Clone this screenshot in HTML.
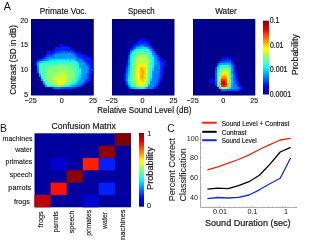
<!DOCTYPE html>
<html><head><meta charset="utf-8"><style>
html,body{margin:0;padding:0;background:#fff;width:300px;height:240px;overflow:hidden}
svg{display:block;font-family:"Liberation Sans",sans-serif;will-change:transform}
</style></head><body><svg width="300" height="240" viewBox="0 0 300 240" font-family="Liberation Sans, sans-serif"><defs><filter id="hb" x="-5%" y="-5%" width="110%" height="110%"><feGaussianBlur stdDeviation="0.55"/></filter></defs><defs><clipPath id="hc0"><rect x="31" y="19" width="62.8" height="76.4"/></clipPath></defs><g clip-path="url(#hc0)"><g filter="url(#hb)"><rect x="28" y="16" width="68.8" height="82.4" fill="#00008f"/><g shape-rendering="crispEdges"><rect x="59" y="45" width="2" height="2" fill="#0000ff"/><rect x="61" y="45" width="2" height="2" fill="#0010ff"/><rect x="63" y="45" width="2" height="2" fill="#0000ff"/><rect x="65" y="45" width="2" height="2" fill="#0000ef"/><rect x="55" y="47" width="2" height="2" fill="#0010ff"/><rect x="57" y="47" width="2" height="2" fill="#0020ff"/><rect x="59" y="47" width="2" height="2" fill="#0010ff"/><rect x="61" y="47" width="8" height="2" fill="#0020ff"/><rect x="69" y="47" width="2" height="2" fill="#0010ff"/><rect x="53" y="49" width="2" height="2" fill="#0000ff"/><rect x="55" y="49" width="10" height="2" fill="#0020ff"/><rect x="65" y="49" width="2" height="2" fill="#0010ff"/><rect x="67" y="49" width="4" height="2" fill="#0020ff"/><rect x="71" y="49" width="2" height="2" fill="#0010ff"/><rect x="47" y="51" width="4" height="2" fill="#0010ff"/><rect x="51" y="51" width="2" height="2" fill="#0000ef"/><rect x="53" y="51" width="2" height="2" fill="#0010ff"/><rect x="55" y="51" width="2" height="2" fill="#0030ff"/><rect x="57" y="51" width="2" height="2" fill="#0040ff"/><rect x="59" y="51" width="2" height="2" fill="#0050ff"/><rect x="61" y="51" width="2" height="2" fill="#0060ff"/><rect x="63" y="51" width="2" height="2" fill="#0070ff"/><rect x="65" y="51" width="4" height="2" fill="#0050ff"/><rect x="69" y="51" width="2" height="2" fill="#0060ff"/><rect x="71" y="51" width="2" height="2" fill="#0040ff"/><rect x="73" y="51" width="2" height="2" fill="#0020ff"/><rect x="75" y="51" width="2" height="2" fill="#0000ff"/><rect x="77" y="51" width="2" height="2" fill="#0000ef"/><rect x="47" y="53" width="6" height="2" fill="#0020ff"/><rect x="53" y="53" width="2" height="2" fill="#0050ff"/><rect x="55" y="53" width="4" height="2" fill="#0080ff"/><rect x="59" y="53" width="8" height="2" fill="#008fff"/><rect x="67" y="53" width="4" height="2" fill="#009fff"/><rect x="71" y="53" width="2" height="2" fill="#0080ff"/><rect x="73" y="53" width="2" height="2" fill="#0040ff"/><rect x="75" y="53" width="2" height="2" fill="#0030ff"/><rect x="77" y="53" width="2" height="2" fill="#0010ff"/><rect x="79" y="53" width="2" height="2" fill="#0020ff"/><rect x="81" y="53" width="2" height="2" fill="#0000ff"/><rect x="45" y="55" width="2" height="2" fill="#0020ff"/><rect x="47" y="55" width="4" height="2" fill="#0050ff"/><rect x="51" y="55" width="2" height="2" fill="#0070ff"/><rect x="53" y="55" width="2" height="2" fill="#008fff"/><rect x="55" y="55" width="2" height="2" fill="#009fff"/><rect x="57" y="55" width="4" height="2" fill="#008fff"/><rect x="61" y="55" width="2" height="2" fill="#009fff"/><rect x="63" y="55" width="2" height="2" fill="#008fff"/><rect x="65" y="55" width="4" height="2" fill="#009fff"/><rect x="69" y="55" width="2" height="2" fill="#0080ff"/><rect x="71" y="55" width="2" height="2" fill="#009fff"/><rect x="73" y="55" width="2" height="2" fill="#008fff"/><rect x="75" y="55" width="2" height="2" fill="#0050ff"/><rect x="77" y="55" width="8" height="2" fill="#0020ff"/><rect x="85" y="55" width="2" height="2" fill="#0000ff"/><rect x="41" y="57" width="2" height="2" fill="#0000ef"/><rect x="43" y="57" width="2" height="2" fill="#0020ff"/><rect x="45" y="57" width="2" height="2" fill="#0060ff"/><rect x="47" y="57" width="2" height="2" fill="#008fff"/><rect x="49" y="57" width="2" height="2" fill="#009fff"/><rect x="51" y="57" width="2" height="2" fill="#0080ff"/><rect x="53" y="57" width="2" height="2" fill="#008fff"/><rect x="55" y="57" width="4" height="2" fill="#009fff"/><rect x="59" y="57" width="2" height="2" fill="#008fff"/><rect x="61" y="57" width="10" height="2" fill="#009fff"/><rect x="71" y="57" width="4" height="2" fill="#008fff"/><rect x="75" y="57" width="2" height="2" fill="#009fff"/><rect x="77" y="57" width="2" height="2" fill="#0050ff"/><rect x="79" y="57" width="2" height="2" fill="#0040ff"/><rect x="81" y="57" width="2" height="2" fill="#0020ff"/><rect x="83" y="57" width="2" height="2" fill="#0010ff"/><rect x="85" y="57" width="2" height="2" fill="#0020ff"/><rect x="87" y="57" width="4" height="2" fill="#0010ff"/><rect x="37" y="59" width="2" height="2" fill="#0010ff"/><rect x="39" y="59" width="2" height="2" fill="#0030ff"/><rect x="41" y="59" width="2" height="2" fill="#0050ff"/><rect x="43" y="59" width="2" height="2" fill="#0080ff"/><rect x="45" y="59" width="2" height="2" fill="#008fff"/><rect x="47" y="59" width="2" height="2" fill="#009fff"/><rect x="49" y="59" width="6" height="2" fill="#00dfff"/><rect x="55" y="59" width="10" height="2" fill="#00efff"/><rect x="65" y="59" width="2" height="2" fill="#00dfff"/><rect x="67" y="59" width="2" height="2" fill="#00efff"/><rect x="69" y="59" width="2" height="2" fill="#00cfff"/><rect x="71" y="59" width="4" height="2" fill="#00dfff"/><rect x="75" y="59" width="2" height="2" fill="#008fff"/><rect x="77" y="59" width="2" height="2" fill="#0070ff"/><rect x="79" y="59" width="2" height="2" fill="#008fff"/><rect x="81" y="59" width="2" height="2" fill="#0070ff"/><rect x="83" y="59" width="2" height="2" fill="#0020ff"/><rect x="85" y="59" width="2" height="2" fill="#0010ff"/><rect x="87" y="59" width="2" height="2" fill="#0020ff"/><rect x="89" y="59" width="2" height="2" fill="#0010ff"/><rect x="91" y="59" width="2" height="2" fill="#0000ff"/><rect x="35" y="61" width="2" height="2" fill="#0000ff"/><rect x="37" y="61" width="2" height="2" fill="#0070ff"/><rect x="39" y="61" width="2" height="2" fill="#00bfff"/><rect x="41" y="61" width="2" height="2" fill="#00dfff"/><rect x="43" y="61" width="2" height="2" fill="#00efff"/><rect x="45" y="61" width="2" height="2" fill="#00ffff"/><rect x="47" y="61" width="4" height="2" fill="#10ffef"/><rect x="51" y="61" width="2" height="2" fill="#20ffdf"/><rect x="53" y="61" width="4" height="2" fill="#10ffef"/><rect x="57" y="61" width="2" height="2" fill="#30ffcf"/><rect x="59" y="61" width="4" height="2" fill="#20ffdf"/><rect x="63" y="61" width="2" height="2" fill="#30ffcf"/><rect x="65" y="61" width="4" height="2" fill="#20ffdf"/><rect x="69" y="61" width="2" height="2" fill="#30ffcf"/><rect x="71" y="61" width="2" height="2" fill="#20ffdf"/><rect x="73" y="61" width="2" height="2" fill="#10ffef"/><rect x="75" y="61" width="2" height="2" fill="#00ffff"/><rect x="77" y="61" width="2" height="2" fill="#00afff"/><rect x="79" y="61" width="2" height="2" fill="#008fff"/><rect x="81" y="61" width="2" height="2" fill="#0080ff"/><rect x="83" y="61" width="2" height="2" fill="#0060ff"/><rect x="85" y="61" width="2" height="2" fill="#0040ff"/><rect x="87" y="61" width="2" height="2" fill="#0010ff"/><rect x="89" y="61" width="2" height="2" fill="#0020ff"/><rect x="91" y="61" width="2.8" height="2" fill="#0000ff"/><rect x="35" y="63" width="2" height="2" fill="#0020ff"/><rect x="37" y="63" width="2" height="2" fill="#00afff"/><rect x="39" y="63" width="2" height="2" fill="#20ffdf"/><rect x="41" y="63" width="6" height="2" fill="#40ffbf"/><rect x="47" y="63" width="2" height="2" fill="#50ffaf"/><rect x="49" y="63" width="12" height="2" fill="#40ffbf"/><rect x="61" y="63" width="2" height="2" fill="#50ffaf"/><rect x="63" y="63" width="2" height="2" fill="#30ffcf"/><rect x="65" y="63" width="2" height="2" fill="#50ffaf"/><rect x="67" y="63" width="2" height="2" fill="#40ffbf"/><rect x="69" y="63" width="2" height="2" fill="#30ffcf"/><rect x="71" y="63" width="4" height="2" fill="#40ffbf"/><rect x="75" y="63" width="2" height="2" fill="#30ffcf"/><rect x="77" y="63" width="2" height="2" fill="#00efff"/><rect x="79" y="63" width="2" height="2" fill="#008fff"/><rect x="81" y="63" width="2" height="2" fill="#00bfff"/><rect x="83" y="63" width="2" height="2" fill="#009fff"/><rect x="85" y="63" width="2" height="2" fill="#0060ff"/><rect x="87" y="63" width="4" height="2" fill="#0020ff"/><rect x="91" y="63" width="2" height="2" fill="#0000ff"/><rect x="93" y="63" width="0.8" height="2" fill="#0010ff"/><rect x="37" y="65" width="2" height="2" fill="#009fff"/><rect x="39" y="65" width="4" height="2" fill="#50ffaf"/><rect x="43" y="65" width="2" height="2" fill="#30ffcf"/><rect x="45" y="65" width="2" height="2" fill="#50ffaf"/><rect x="47" y="65" width="2" height="2" fill="#40ffbf"/><rect x="49" y="65" width="4" height="2" fill="#60ff9f"/><rect x="53" y="65" width="2" height="2" fill="#70ff8f"/><rect x="55" y="65" width="2" height="2" fill="#60ff9f"/><rect x="57" y="65" width="4" height="2" fill="#8fff70"/><rect x="61" y="65" width="2" height="2" fill="#70ff8f"/><rect x="63" y="65" width="2" height="2" fill="#80ff80"/><rect x="65" y="65" width="4" height="2" fill="#70ff8f"/><rect x="69" y="65" width="2" height="2" fill="#60ff9f"/><rect x="71" y="65" width="2" height="2" fill="#70ff8f"/><rect x="73" y="65" width="4" height="2" fill="#40ffbf"/><rect x="77" y="65" width="2" height="2" fill="#20ffdf"/><rect x="79" y="65" width="2" height="2" fill="#00afff"/><rect x="81" y="65" width="6" height="2" fill="#008fff"/><rect x="87" y="65" width="2" height="2" fill="#0060ff"/><rect x="89" y="65" width="2" height="2" fill="#0020ff"/><rect x="91" y="65" width="2" height="2" fill="#0010ff"/><rect x="37" y="67" width="2" height="2" fill="#0080ff"/><rect x="39" y="67" width="4" height="2" fill="#40ffbf"/><rect x="43" y="67" width="2" height="2" fill="#50ffaf"/><rect x="45" y="67" width="2" height="2" fill="#60ff9f"/><rect x="47" y="67" width="4" height="2" fill="#70ff8f"/><rect x="51" y="67" width="2" height="2" fill="#80ff80"/><rect x="53" y="67" width="2" height="2" fill="#70ff8f"/><rect x="55" y="67" width="2" height="2" fill="#8fff70"/><rect x="57" y="67" width="4" height="2" fill="#80ff80"/><rect x="61" y="67" width="4" height="2" fill="#8fff70"/><rect x="65" y="67" width="2" height="2" fill="#80ff80"/><rect x="67" y="67" width="2" height="2" fill="#70ff8f"/><rect x="69" y="67" width="2" height="2" fill="#8fff70"/><rect x="71" y="67" width="2" height="2" fill="#80ff80"/><rect x="73" y="67" width="2" height="2" fill="#40ffbf"/><rect x="75" y="67" width="2" height="2" fill="#50ffaf"/><rect x="77" y="67" width="2" height="2" fill="#20ffdf"/><rect x="79" y="67" width="2" height="2" fill="#00cfff"/><rect x="81" y="67" width="2" height="2" fill="#009fff"/><rect x="83" y="67" width="2" height="2" fill="#008fff"/><rect x="85" y="67" width="2" height="2" fill="#009fff"/><rect x="87" y="67" width="2" height="2" fill="#0070ff"/><rect x="89" y="67" width="2" height="2" fill="#0040ff"/><rect x="91" y="67" width="2" height="2" fill="#0000ff"/><rect x="37" y="69" width="2" height="2" fill="#0070ff"/><rect x="39" y="69" width="4" height="2" fill="#40ffbf"/><rect x="43" y="69" width="2" height="2" fill="#50ffaf"/><rect x="45" y="69" width="2" height="2" fill="#70ff8f"/><rect x="47" y="69" width="2" height="2" fill="#80ff80"/><rect x="49" y="69" width="2" height="2" fill="#8fff70"/><rect x="51" y="69" width="2" height="2" fill="#80ff80"/><rect x="53" y="69" width="2" height="2" fill="#8fff70"/><rect x="55" y="69" width="4" height="2" fill="#80ff80"/><rect x="59" y="69" width="6" height="2" fill="#8fff70"/><rect x="65" y="69" width="2" height="2" fill="#80ff80"/><rect x="67" y="69" width="2" height="2" fill="#8fff70"/><rect x="69" y="69" width="2" height="2" fill="#70ff8f"/><rect x="71" y="69" width="2" height="2" fill="#80ff80"/><rect x="73" y="69" width="2" height="2" fill="#60ff9f"/><rect x="75" y="69" width="4" height="2" fill="#30ffcf"/><rect x="79" y="69" width="2" height="2" fill="#00ffff"/><rect x="81" y="69" width="2" height="2" fill="#00afff"/><rect x="83" y="69" width="4" height="2" fill="#008fff"/><rect x="87" y="69" width="2" height="2" fill="#0080ff"/><rect x="89" y="69" width="2" height="2" fill="#0010ff"/><rect x="91" y="69" width="2" height="2" fill="#0030ff"/><rect x="37" y="71" width="2" height="2" fill="#0060ff"/><rect x="39" y="71" width="2" height="2" fill="#20ffdf"/><rect x="41" y="71" width="4" height="2" fill="#50ffaf"/><rect x="45" y="71" width="2" height="2" fill="#60ff9f"/><rect x="47" y="71" width="4" height="2" fill="#8fff70"/><rect x="51" y="71" width="4" height="2" fill="#80ff80"/><rect x="55" y="71" width="2" height="2" fill="#8fff70"/><rect x="57" y="71" width="2" height="2" fill="#80ff80"/><rect x="59" y="71" width="2" height="2" fill="#9fff60"/><rect x="61" y="71" width="4" height="2" fill="#afff50"/><rect x="65" y="71" width="6" height="2" fill="#80ff80"/><rect x="71" y="71" width="2" height="2" fill="#8fff70"/><rect x="73" y="71" width="2" height="2" fill="#70ff8f"/><rect x="75" y="71" width="2" height="2" fill="#50ffaf"/><rect x="77" y="71" width="2" height="2" fill="#30ffcf"/><rect x="79" y="71" width="2" height="2" fill="#00ffff"/><rect x="81" y="71" width="4" height="2" fill="#009fff"/><rect x="85" y="71" width="2" height="2" fill="#00afff"/><rect x="87" y="71" width="2" height="2" fill="#0070ff"/><rect x="89" y="71" width="2" height="2" fill="#0020ff"/><rect x="91" y="71" width="2" height="2" fill="#0000ff"/><rect x="39" y="73" width="2" height="2" fill="#00dfff"/><rect x="41" y="73" width="2" height="2" fill="#40ffbf"/><rect x="43" y="73" width="2" height="2" fill="#50ffaf"/><rect x="45" y="73" width="2" height="2" fill="#70ff8f"/><rect x="47" y="73" width="2" height="2" fill="#9fff60"/><rect x="49" y="73" width="8" height="2" fill="#8fff70"/><rect x="57" y="73" width="6" height="2" fill="#bfff40"/><rect x="63" y="73" width="2" height="2" fill="#cfff30"/><rect x="65" y="73" width="2" height="2" fill="#afff50"/><rect x="67" y="73" width="4" height="2" fill="#80ff80"/><rect x="71" y="73" width="2" height="2" fill="#70ff8f"/><rect x="73" y="73" width="2" height="2" fill="#80ff80"/><rect x="75" y="73" width="2" height="2" fill="#40ffbf"/><rect x="77" y="73" width="2" height="2" fill="#20ffdf"/><rect x="79" y="73" width="2" height="2" fill="#00efff"/><rect x="81" y="73" width="2" height="2" fill="#009fff"/><rect x="83" y="73" width="2" height="2" fill="#008fff"/><rect x="85" y="73" width="2" height="2" fill="#0080ff"/><rect x="87" y="73" width="2" height="2" fill="#0050ff"/><rect x="89" y="73" width="2" height="2" fill="#0020ff"/><rect x="39" y="75" width="2" height="2" fill="#0080ff"/><rect x="41" y="75" width="2" height="2" fill="#40ffbf"/><rect x="43" y="75" width="2" height="2" fill="#60ff9f"/><rect x="45" y="75" width="2" height="2" fill="#70ff8f"/><rect x="47" y="75" width="2" height="2" fill="#8fff70"/><rect x="49" y="75" width="2" height="2" fill="#70ff8f"/><rect x="51" y="75" width="2" height="2" fill="#8fff70"/><rect x="53" y="75" width="2" height="2" fill="#afff50"/><rect x="55" y="75" width="2" height="2" fill="#cfff30"/><rect x="57" y="75" width="2" height="2" fill="#dfff20"/><rect x="59" y="75" width="2" height="2" fill="#afff50"/><rect x="61" y="75" width="2" height="2" fill="#cfff30"/><rect x="63" y="75" width="2" height="2" fill="#bfff40"/><rect x="65" y="75" width="2" height="2" fill="#cfff30"/><rect x="67" y="75" width="4" height="2" fill="#80ff80"/><rect x="71" y="75" width="2" height="2" fill="#8fff70"/><rect x="73" y="75" width="2" height="2" fill="#70ff8f"/><rect x="75" y="75" width="2" height="2" fill="#40ffbf"/><rect x="77" y="75" width="2" height="2" fill="#20ffdf"/><rect x="79" y="75" width="2" height="2" fill="#00dfff"/><rect x="81" y="75" width="2" height="2" fill="#009fff"/><rect x="83" y="75" width="2" height="2" fill="#008fff"/><rect x="85" y="75" width="2" height="2" fill="#0080ff"/><rect x="87" y="75" width="2" height="2" fill="#0050ff"/><rect x="89" y="75" width="2" height="2" fill="#0010ff"/><rect x="41" y="77" width="2" height="2" fill="#00ffff"/><rect x="43" y="77" width="2" height="2" fill="#40ffbf"/><rect x="45" y="77" width="4" height="2" fill="#80ff80"/><rect x="49" y="77" width="4" height="2" fill="#8fff70"/><rect x="53" y="77" width="2" height="2" fill="#cfff30"/><rect x="55" y="77" width="2" height="2" fill="#dfff20"/><rect x="57" y="77" width="2" height="2" fill="#bfff40"/><rect x="59" y="77" width="4" height="2" fill="#cfff30"/><rect x="63" y="77" width="2" height="2" fill="#dfff20"/><rect x="65" y="77" width="2" height="2" fill="#bfff40"/><rect x="67" y="77" width="2" height="2" fill="#80ff80"/><rect x="69" y="77" width="4" height="2" fill="#8fff70"/><rect x="73" y="77" width="2" height="2" fill="#70ff8f"/><rect x="75" y="77" width="2" height="2" fill="#20ffdf"/><rect x="77" y="77" width="2" height="2" fill="#10ffef"/><rect x="79" y="77" width="2" height="2" fill="#00cfff"/><rect x="81" y="77" width="6" height="2" fill="#0080ff"/><rect x="87" y="77" width="2" height="2" fill="#0040ff"/><rect x="89" y="77" width="2" height="2" fill="#0000ff"/><rect x="41" y="79" width="2" height="2" fill="#009fff"/><rect x="43" y="79" width="2" height="2" fill="#40ffbf"/><rect x="45" y="79" width="2" height="2" fill="#70ff8f"/><rect x="47" y="79" width="2" height="2" fill="#80ff80"/><rect x="49" y="79" width="2" height="2" fill="#8fff70"/><rect x="51" y="79" width="2" height="2" fill="#80ff80"/><rect x="53" y="79" width="2" height="2" fill="#bfff40"/><rect x="55" y="79" width="2" height="2" fill="#cfff30"/><rect x="57" y="79" width="4" height="2" fill="#dfff20"/><rect x="61" y="79" width="4" height="2" fill="#cfff30"/><rect x="65" y="79" width="2" height="2" fill="#bfff40"/><rect x="67" y="79" width="2" height="2" fill="#8fff70"/><rect x="69" y="79" width="2" height="2" fill="#80ff80"/><rect x="71" y="79" width="2" height="2" fill="#70ff8f"/><rect x="73" y="79" width="4" height="2" fill="#30ffcf"/><rect x="77" y="79" width="2" height="2" fill="#00efff"/><rect x="79" y="79" width="2" height="2" fill="#008fff"/><rect x="81" y="79" width="2" height="2" fill="#009fff"/><rect x="83" y="79" width="2" height="2" fill="#0080ff"/><rect x="85" y="79" width="2" height="2" fill="#0050ff"/><rect x="87" y="79" width="4" height="2" fill="#0020ff"/><rect x="43" y="81" width="2" height="2" fill="#00cfff"/><rect x="45" y="81" width="2" height="2" fill="#50ffaf"/><rect x="47" y="81" width="2" height="2" fill="#80ff80"/><rect x="49" y="81" width="2" height="2" fill="#8fff70"/><rect x="51" y="81" width="2" height="2" fill="#9fff60"/><rect x="53" y="81" width="2" height="2" fill="#afff50"/><rect x="55" y="81" width="2" height="2" fill="#bfff40"/><rect x="57" y="81" width="6" height="2" fill="#ffff00"/><rect x="63" y="81" width="2" height="2" fill="#cfff30"/><rect x="65" y="81" width="2" height="2" fill="#afff50"/><rect x="67" y="81" width="2" height="2" fill="#8fff70"/><rect x="69" y="81" width="2" height="2" fill="#70ff8f"/><rect x="71" y="81" width="2" height="2" fill="#60ff9f"/><rect x="73" y="81" width="2" height="2" fill="#30ffcf"/><rect x="75" y="81" width="2" height="2" fill="#00ffff"/><rect x="77" y="81" width="2" height="2" fill="#00afff"/><rect x="79" y="81" width="2" height="2" fill="#008fff"/><rect x="81" y="81" width="2" height="2" fill="#009fff"/><rect x="83" y="81" width="2" height="2" fill="#0070ff"/><rect x="85" y="81" width="2" height="2" fill="#0020ff"/><rect x="87" y="81" width="2" height="2" fill="#0010ff"/><rect x="43" y="83" width="2" height="2" fill="#0070ff"/><rect x="45" y="83" width="2" height="2" fill="#20ffdf"/><rect x="47" y="83" width="2" height="2" fill="#60ff9f"/><rect x="49" y="83" width="2" height="2" fill="#8fff70"/><rect x="51" y="83" width="2" height="2" fill="#80ff80"/><rect x="53" y="83" width="2" height="2" fill="#afff50"/><rect x="55" y="83" width="2" height="2" fill="#bfff40"/><rect x="57" y="83" width="6" height="2" fill="#ffef00"/><rect x="63" y="83" width="2" height="2" fill="#bfff40"/><rect x="65" y="83" width="2" height="2" fill="#80ff80"/><rect x="67" y="83" width="2" height="2" fill="#60ff9f"/><rect x="69" y="83" width="2" height="2" fill="#40ffbf"/><rect x="71" y="83" width="2" height="2" fill="#10ffef"/><rect x="73" y="83" width="2" height="2" fill="#00efff"/><rect x="75" y="83" width="2" height="2" fill="#00bfff"/><rect x="77" y="83" width="2" height="2" fill="#009fff"/><rect x="79" y="83" width="2" height="2" fill="#008fff"/><rect x="81" y="83" width="2" height="2" fill="#0070ff"/><rect x="83" y="83" width="2" height="2" fill="#0020ff"/><rect x="45" y="85" width="2" height="2" fill="#009fff"/><rect x="47" y="85" width="2" height="2" fill="#10ffef"/><rect x="49" y="85" width="4" height="2" fill="#20ffdf"/><rect x="53" y="85" width="2" height="2" fill="#30ffcf"/><rect x="55" y="85" width="2" height="2" fill="#40ffbf"/><rect x="57" y="85" width="2" height="2" fill="#80ff80"/><rect x="59" y="85" width="2" height="2" fill="#8fff70"/><rect x="61" y="85" width="2" height="2" fill="#70ff8f"/><rect x="63" y="85" width="2" height="2" fill="#40ffbf"/><rect x="65" y="85" width="2" height="2" fill="#10ffef"/><rect x="67" y="85" width="2" height="2" fill="#00ffff"/><rect x="69" y="85" width="2" height="2" fill="#00dfff"/><rect x="71" y="85" width="2" height="2" fill="#00afff"/><rect x="73" y="85" width="2" height="2" fill="#009fff"/><rect x="75" y="85" width="2" height="2" fill="#0080ff"/><rect x="77" y="85" width="2" height="2" fill="#0060ff"/><rect x="79" y="85" width="2" height="2" fill="#0050ff"/><rect x="81" y="85" width="2" height="2" fill="#0020ff"/><rect x="53" y="87" width="4" height="2" fill="#0070ff"/><rect x="57" y="87" width="2" height="2" fill="#0080ff"/><rect x="59" y="87" width="2" height="2" fill="#0070ff"/><rect x="61" y="87" width="2" height="2" fill="#0050ff"/><rect x="63" y="87" width="2" height="2" fill="#0060ff"/><rect x="65" y="87" width="4" height="2" fill="#0040ff"/><rect x="69" y="87" width="2" height="2" fill="#0050ff"/><rect x="71" y="87" width="2" height="2" fill="#0030ff"/><rect x="73" y="87" width="2" height="2" fill="#0020ff"/><rect x="75" y="87" width="2" height="2" fill="#0010ff"/></g></g></g><defs><clipPath id="hc1"><rect x="112" y="19" width="62.5" height="76.4"/></clipPath></defs><g clip-path="url(#hc1)"><g filter="url(#hb)"><rect x="109" y="16" width="68.5" height="82.4" fill="#00008f"/><g shape-rendering="crispEdges"><rect x="140" y="39" width="6" height="2" fill="#0010ff"/><rect x="136" y="41" width="2" height="2" fill="#0000ef"/><rect x="138" y="41" width="4" height="2" fill="#0020ff"/><rect x="142" y="41" width="2" height="2" fill="#0010ff"/><rect x="144" y="41" width="2" height="2" fill="#0020ff"/><rect x="146" y="41" width="2" height="2" fill="#0010ff"/><rect x="148" y="41" width="2" height="2" fill="#0000ff"/><rect x="134" y="43" width="2" height="2" fill="#0000ff"/><rect x="136" y="43" width="4" height="2" fill="#0020ff"/><rect x="140" y="43" width="4" height="2" fill="#0030ff"/><rect x="144" y="43" width="2" height="2" fill="#0040ff"/><rect x="146" y="43" width="2" height="2" fill="#0030ff"/><rect x="148" y="43" width="2" height="2" fill="#0010ff"/><rect x="132" y="45" width="2" height="2" fill="#0000ef"/><rect x="134" y="45" width="2" height="2" fill="#0020ff"/><rect x="136" y="45" width="2" height="2" fill="#0050ff"/><rect x="138" y="45" width="2" height="2" fill="#0070ff"/><rect x="140" y="45" width="4" height="2" fill="#008fff"/><rect x="144" y="45" width="2" height="2" fill="#0060ff"/><rect x="146" y="45" width="2" height="2" fill="#0050ff"/><rect x="148" y="45" width="2" height="2" fill="#0040ff"/><rect x="150" y="45" width="2" height="2" fill="#0010ff"/><rect x="132" y="47" width="2" height="2" fill="#0020ff"/><rect x="134" y="47" width="2" height="2" fill="#0060ff"/><rect x="136" y="47" width="4" height="2" fill="#00bfff"/><rect x="140" y="47" width="2" height="2" fill="#00cfff"/><rect x="142" y="47" width="2" height="2" fill="#00efff"/><rect x="144" y="47" width="2" height="2" fill="#00dfff"/><rect x="146" y="47" width="2" height="2" fill="#00cfff"/><rect x="148" y="47" width="2" height="2" fill="#0080ff"/><rect x="150" y="47" width="2" height="2" fill="#0030ff"/><rect x="152" y="47" width="2" height="2" fill="#0010ff"/><rect x="130" y="49" width="2" height="2" fill="#0020ff"/><rect x="132" y="49" width="2" height="2" fill="#0070ff"/><rect x="134" y="49" width="2" height="2" fill="#00dfff"/><rect x="136" y="49" width="2" height="2" fill="#10ffef"/><rect x="138" y="49" width="2" height="2" fill="#20ffdf"/><rect x="140" y="49" width="6" height="2" fill="#30ffcf"/><rect x="146" y="49" width="2" height="2" fill="#20ffdf"/><rect x="148" y="49" width="2" height="2" fill="#00efff"/><rect x="150" y="49" width="2" height="2" fill="#009fff"/><rect x="152" y="49" width="2" height="2" fill="#0040ff"/><rect x="128" y="51" width="2" height="2" fill="#0000ff"/><rect x="130" y="51" width="2" height="2" fill="#008fff"/><rect x="132" y="51" width="2" height="2" fill="#00ffff"/><rect x="134" y="51" width="4" height="2" fill="#30ffcf"/><rect x="138" y="51" width="4" height="2" fill="#60ff9f"/><rect x="142" y="51" width="6" height="2" fill="#50ffaf"/><rect x="148" y="51" width="2" height="2" fill="#30ffcf"/><rect x="150" y="51" width="2" height="2" fill="#00dfff"/><rect x="152" y="51" width="2" height="2" fill="#0070ff"/><rect x="154" y="51" width="2" height="2" fill="#0030ff"/><rect x="128" y="53" width="2" height="2" fill="#0010ff"/><rect x="130" y="53" width="2" height="2" fill="#00cfff"/><rect x="132" y="53" width="4" height="2" fill="#30ffcf"/><rect x="136" y="53" width="2" height="2" fill="#60ff9f"/><rect x="138" y="53" width="2" height="2" fill="#70ff8f"/><rect x="140" y="53" width="4" height="2" fill="#60ff9f"/><rect x="144" y="53" width="2" height="2" fill="#70ff8f"/><rect x="146" y="53" width="4" height="2" fill="#60ff9f"/><rect x="150" y="53" width="2" height="2" fill="#10ffef"/><rect x="152" y="53" width="2" height="2" fill="#008fff"/><rect x="154" y="53" width="2" height="2" fill="#0070ff"/><rect x="156" y="53" width="2" height="2" fill="#0010ff"/><rect x="128" y="55" width="2" height="2" fill="#0040ff"/><rect x="130" y="55" width="2" height="2" fill="#00ffff"/><rect x="132" y="55" width="2" height="2" fill="#20ffdf"/><rect x="134" y="55" width="2" height="2" fill="#50ffaf"/><rect x="136" y="55" width="2" height="2" fill="#70ff8f"/><rect x="138" y="55" width="2" height="2" fill="#8fff70"/><rect x="140" y="55" width="6" height="2" fill="#9fff60"/><rect x="146" y="55" width="2" height="2" fill="#80ff80"/><rect x="148" y="55" width="2" height="2" fill="#70ff8f"/><rect x="150" y="55" width="2" height="2" fill="#30ffcf"/><rect x="152" y="55" width="2" height="2" fill="#00cfff"/><rect x="154" y="55" width="2" height="2" fill="#0080ff"/><rect x="156" y="55" width="2" height="2" fill="#0060ff"/><rect x="158" y="55" width="2" height="2" fill="#0000ef"/><rect x="128" y="57" width="2" height="2" fill="#0050ff"/><rect x="130" y="57" width="2" height="2" fill="#10ffef"/><rect x="132" y="57" width="2" height="2" fill="#30ffcf"/><rect x="134" y="57" width="2" height="2" fill="#60ff9f"/><rect x="136" y="57" width="2" height="2" fill="#80ff80"/><rect x="138" y="57" width="8" height="2" fill="#bfff40"/><rect x="146" y="57" width="2" height="2" fill="#afff50"/><rect x="148" y="57" width="2" height="2" fill="#70ff8f"/><rect x="150" y="57" width="2" height="2" fill="#30ffcf"/><rect x="152" y="57" width="2" height="2" fill="#10ffef"/><rect x="154" y="57" width="2" height="2" fill="#008fff"/><rect x="156" y="57" width="2" height="2" fill="#0070ff"/><rect x="158" y="57" width="2" height="2" fill="#0030ff"/><rect x="160" y="57" width="2" height="2" fill="#0000ff"/><rect x="128" y="59" width="2" height="2" fill="#0070ff"/><rect x="130" y="59" width="2" height="2" fill="#10ffef"/><rect x="132" y="59" width="2" height="2" fill="#50ffaf"/><rect x="134" y="59" width="2" height="2" fill="#60ff9f"/><rect x="136" y="59" width="4" height="2" fill="#afff50"/><rect x="140" y="59" width="2" height="2" fill="#bfff40"/><rect x="142" y="59" width="2" height="2" fill="#cfff30"/><rect x="144" y="59" width="6" height="2" fill="#9fff60"/><rect x="150" y="59" width="2" height="2" fill="#70ff8f"/><rect x="152" y="59" width="2" height="2" fill="#00ffff"/><rect x="154" y="59" width="2" height="2" fill="#008fff"/><rect x="156" y="59" width="2" height="2" fill="#0080ff"/><rect x="158" y="59" width="2" height="2" fill="#0040ff"/><rect x="160" y="59" width="4" height="2" fill="#0010ff"/><rect x="126" y="61" width="2" height="2" fill="#0010ff"/><rect x="128" y="61" width="2" height="2" fill="#0070ff"/><rect x="130" y="61" width="2" height="2" fill="#20ffdf"/><rect x="132" y="61" width="2" height="2" fill="#50ffaf"/><rect x="134" y="61" width="2" height="2" fill="#70ff8f"/><rect x="136" y="61" width="4" height="2" fill="#afff50"/><rect x="140" y="61" width="2" height="2" fill="#bfff40"/><rect x="142" y="61" width="4" height="2" fill="#afff50"/><rect x="146" y="61" width="2" height="2" fill="#cfff30"/><rect x="148" y="61" width="2" height="2" fill="#8fff70"/><rect x="150" y="61" width="2" height="2" fill="#40ffbf"/><rect x="152" y="61" width="2" height="2" fill="#10ffef"/><rect x="154" y="61" width="2" height="2" fill="#009fff"/><rect x="156" y="61" width="2" height="2" fill="#0080ff"/><rect x="158" y="61" width="2" height="2" fill="#0070ff"/><rect x="160" y="61" width="2" height="2" fill="#0020ff"/><rect x="162" y="61" width="4" height="2" fill="#0010ff"/><rect x="126" y="63" width="2" height="2" fill="#0000ff"/><rect x="128" y="63" width="2" height="2" fill="#0070ff"/><rect x="130" y="63" width="2" height="2" fill="#10ffef"/><rect x="132" y="63" width="2" height="2" fill="#50ffaf"/><rect x="134" y="63" width="2" height="2" fill="#8fff70"/><rect x="136" y="63" width="2" height="2" fill="#bfff40"/><rect x="138" y="63" width="2" height="2" fill="#dfff20"/><rect x="140" y="63" width="2" height="2" fill="#cfff30"/><rect x="142" y="63" width="4" height="2" fill="#dfff20"/><rect x="146" y="63" width="2" height="2" fill="#bfff40"/><rect x="148" y="63" width="2" height="2" fill="#80ff80"/><rect x="150" y="63" width="2" height="2" fill="#40ffbf"/><rect x="152" y="63" width="2" height="2" fill="#10ffef"/><rect x="154" y="63" width="4" height="2" fill="#009fff"/><rect x="158" y="63" width="2" height="2" fill="#0070ff"/><rect x="160" y="63" width="2" height="2" fill="#0030ff"/><rect x="162" y="63" width="2" height="2" fill="#0020ff"/><rect x="164" y="63" width="2" height="2" fill="#0000ff"/><rect x="126" y="65" width="2" height="2" fill="#0020ff"/><rect x="128" y="65" width="2" height="2" fill="#008fff"/><rect x="130" y="65" width="2" height="2" fill="#20ffdf"/><rect x="132" y="65" width="2" height="2" fill="#40ffbf"/><rect x="134" y="65" width="2" height="2" fill="#8fff70"/><rect x="136" y="65" width="2" height="2" fill="#cfff30"/><rect x="138" y="65" width="2" height="2" fill="#dfff20"/><rect x="140" y="65" width="2" height="2" fill="#ffff00"/><rect x="142" y="65" width="2" height="2" fill="#ffef00"/><rect x="144" y="65" width="2" height="2" fill="#efff10"/><rect x="146" y="65" width="2" height="2" fill="#cfff30"/><rect x="148" y="65" width="2" height="2" fill="#80ff80"/><rect x="150" y="65" width="2" height="2" fill="#60ff9f"/><rect x="152" y="65" width="2" height="2" fill="#00ffff"/><rect x="154" y="65" width="6" height="2" fill="#0080ff"/><rect x="160" y="65" width="4" height="2" fill="#0020ff"/><rect x="164" y="65" width="2" height="2" fill="#0000ff"/><rect x="126" y="67" width="2" height="2" fill="#0040ff"/><rect x="128" y="67" width="2" height="2" fill="#00afff"/><rect x="130" y="67" width="2" height="2" fill="#00ffff"/><rect x="132" y="67" width="2" height="2" fill="#60ff9f"/><rect x="134" y="67" width="2" height="2" fill="#80ff80"/><rect x="136" y="67" width="2" height="2" fill="#efff10"/><rect x="138" y="67" width="2" height="2" fill="#ffef00"/><rect x="140" y="67" width="2" height="2" fill="#ffbf00"/><rect x="142" y="67" width="2" height="2" fill="#ffcf00"/><rect x="144" y="67" width="2" height="2" fill="#ffdf00"/><rect x="146" y="67" width="2" height="2" fill="#efff10"/><rect x="148" y="67" width="2" height="2" fill="#70ff8f"/><rect x="150" y="67" width="2" height="2" fill="#40ffbf"/><rect x="152" y="67" width="2" height="2" fill="#00dfff"/><rect x="154" y="67" width="2" height="2" fill="#0080ff"/><rect x="156" y="67" width="2" height="2" fill="#0070ff"/><rect x="158" y="67" width="2" height="2" fill="#008fff"/><rect x="160" y="67" width="2" height="2" fill="#0020ff"/><rect x="162" y="67" width="2" height="2" fill="#0010ff"/><rect x="126" y="69" width="2" height="2" fill="#0050ff"/><rect x="128" y="69" width="2" height="2" fill="#00afff"/><rect x="130" y="69" width="2" height="2" fill="#30ffcf"/><rect x="132" y="69" width="2" height="2" fill="#50ffaf"/><rect x="134" y="69" width="2" height="2" fill="#8fff70"/><rect x="136" y="69" width="2" height="2" fill="#cfff30"/><rect x="138" y="69" width="2" height="2" fill="#ffff00"/><rect x="140" y="69" width="4" height="2" fill="#ffaf00"/><rect x="144" y="69" width="2" height="2" fill="#ffdf00"/><rect x="146" y="69" width="2" height="2" fill="#cfff30"/><rect x="148" y="69" width="2" height="2" fill="#80ff80"/><rect x="150" y="69" width="2" height="2" fill="#30ffcf"/><rect x="152" y="69" width="2" height="2" fill="#00cfff"/><rect x="154" y="69" width="4" height="2" fill="#0080ff"/><rect x="158" y="69" width="2" height="2" fill="#0070ff"/><rect x="160" y="69" width="2" height="2" fill="#0040ff"/><rect x="162" y="69" width="2" height="2" fill="#0000ff"/><rect x="126" y="71" width="2" height="2" fill="#0050ff"/><rect x="128" y="71" width="2" height="2" fill="#00bfff"/><rect x="130" y="71" width="2" height="2" fill="#30ffcf"/><rect x="132" y="71" width="2" height="2" fill="#60ff9f"/><rect x="134" y="71" width="2" height="2" fill="#80ff80"/><rect x="136" y="71" width="2" height="2" fill="#dfff20"/><rect x="138" y="71" width="2" height="2" fill="#ffef00"/><rect x="140" y="71" width="2" height="2" fill="#ffbf00"/><rect x="142" y="71" width="2" height="2" fill="#ff9f00"/><rect x="144" y="71" width="2" height="2" fill="#ffdf00"/><rect x="146" y="71" width="2" height="2" fill="#cfff30"/><rect x="148" y="71" width="2" height="2" fill="#70ff8f"/><rect x="150" y="71" width="2" height="2" fill="#20ffdf"/><rect x="152" y="71" width="2" height="2" fill="#00afff"/><rect x="154" y="71" width="2" height="2" fill="#0070ff"/><rect x="156" y="71" width="2" height="2" fill="#008fff"/><rect x="158" y="71" width="2" height="2" fill="#0070ff"/><rect x="160" y="71" width="2" height="2" fill="#0020ff"/><rect x="162" y="71" width="2" height="2" fill="#0010ff"/><rect x="124" y="73" width="2" height="2" fill="#0010ff"/><rect x="126" y="73" width="2" height="2" fill="#0070ff"/><rect x="128" y="73" width="2" height="2" fill="#00cfff"/><rect x="130" y="73" width="2" height="2" fill="#30ffcf"/><rect x="132" y="73" width="2" height="2" fill="#60ff9f"/><rect x="134" y="73" width="2" height="2" fill="#8fff70"/><rect x="136" y="73" width="2" height="2" fill="#dfff20"/><rect x="138" y="73" width="2" height="2" fill="#ffff00"/><rect x="140" y="73" width="2" height="2" fill="#ffbf00"/><rect x="142" y="73" width="2" height="2" fill="#ffaf00"/><rect x="144" y="73" width="2" height="2" fill="#ffcf00"/><rect x="146" y="73" width="2" height="2" fill="#cfff30"/><rect x="148" y="73" width="2" height="2" fill="#60ff9f"/><rect x="150" y="73" width="2" height="2" fill="#20ffdf"/><rect x="152" y="73" width="2" height="2" fill="#008fff"/><rect x="154" y="73" width="2" height="2" fill="#0070ff"/><rect x="156" y="73" width="2" height="2" fill="#0080ff"/><rect x="158" y="73" width="2" height="2" fill="#0060ff"/><rect x="160" y="73" width="2" height="2" fill="#0030ff"/><rect x="162" y="73" width="2" height="2" fill="#0010ff"/><rect x="124" y="75" width="2" height="2" fill="#0020ff"/><rect x="126" y="75" width="2" height="2" fill="#0070ff"/><rect x="128" y="75" width="2" height="2" fill="#00dfff"/><rect x="130" y="75" width="4" height="2" fill="#40ffbf"/><rect x="134" y="75" width="2" height="2" fill="#bfff40"/><rect x="136" y="75" width="2" height="2" fill="#cfff30"/><rect x="138" y="75" width="2" height="2" fill="#ffff00"/><rect x="140" y="75" width="4" height="2" fill="#ffaf00"/><rect x="144" y="75" width="2" height="2" fill="#ffef00"/><rect x="146" y="75" width="2" height="2" fill="#dfff20"/><rect x="148" y="75" width="2" height="2" fill="#70ff8f"/><rect x="150" y="75" width="2" height="2" fill="#00ffff"/><rect x="152" y="75" width="2" height="2" fill="#008fff"/><rect x="154" y="75" width="2" height="2" fill="#0080ff"/><rect x="156" y="75" width="4" height="2" fill="#0070ff"/><rect x="160" y="75" width="2" height="2" fill="#0020ff"/><rect x="162" y="75" width="2" height="2" fill="#0000ff"/><rect x="124" y="77" width="2" height="2" fill="#0010ff"/><rect x="126" y="77" width="2" height="2" fill="#0080ff"/><rect x="128" y="77" width="2" height="2" fill="#00efff"/><rect x="130" y="77" width="2" height="2" fill="#50ffaf"/><rect x="132" y="77" width="2" height="2" fill="#60ff9f"/><rect x="134" y="77" width="2" height="2" fill="#afff50"/><rect x="136" y="77" width="2" height="2" fill="#cfff30"/><rect x="138" y="77" width="2" height="2" fill="#ffff00"/><rect x="140" y="77" width="2" height="2" fill="#ffbf00"/><rect x="142" y="77" width="2" height="2" fill="#ffaf00"/><rect x="144" y="77" width="2" height="2" fill="#ffcf00"/><rect x="146" y="77" width="2" height="2" fill="#cfff30"/><rect x="148" y="77" width="2" height="2" fill="#50ffaf"/><rect x="150" y="77" width="2" height="2" fill="#00efff"/><rect x="152" y="77" width="6" height="2" fill="#0080ff"/><rect x="158" y="77" width="2" height="2" fill="#0050ff"/><rect x="160" y="77" width="2" height="2" fill="#0030ff"/><rect x="124" y="79" width="2" height="2" fill="#0020ff"/><rect x="126" y="79" width="2" height="2" fill="#008fff"/><rect x="128" y="79" width="2" height="2" fill="#10ffef"/><rect x="130" y="79" width="2" height="2" fill="#40ffbf"/><rect x="132" y="79" width="2" height="2" fill="#70ff8f"/><rect x="134" y="79" width="2" height="2" fill="#8fff70"/><rect x="136" y="79" width="2" height="2" fill="#bfff40"/><rect x="138" y="79" width="2" height="2" fill="#efff10"/><rect x="140" y="79" width="4" height="2" fill="#ffcf00"/><rect x="144" y="79" width="2" height="2" fill="#ffef00"/><rect x="146" y="79" width="2" height="2" fill="#afff50"/><rect x="148" y="79" width="2" height="2" fill="#50ffaf"/><rect x="150" y="79" width="2" height="2" fill="#00cfff"/><rect x="152" y="79" width="2" height="2" fill="#0080ff"/><rect x="154" y="79" width="2" height="2" fill="#0070ff"/><rect x="156" y="79" width="2" height="2" fill="#0080ff"/><rect x="158" y="79" width="2" height="2" fill="#0040ff"/><rect x="160" y="79" width="2" height="2" fill="#0000ff"/><rect x="126" y="81" width="2" height="2" fill="#0060ff"/><rect x="128" y="81" width="2" height="2" fill="#00efff"/><rect x="130" y="81" width="2" height="2" fill="#30ffcf"/><rect x="132" y="81" width="2" height="2" fill="#60ff9f"/><rect x="134" y="81" width="2" height="2" fill="#8fff70"/><rect x="136" y="81" width="2" height="2" fill="#bfff40"/><rect x="138" y="81" width="2" height="2" fill="#efff10"/><rect x="140" y="81" width="2" height="2" fill="#ffff00"/><rect x="142" y="81" width="2" height="2" fill="#ffdf00"/><rect x="144" y="81" width="2" height="2" fill="#efff10"/><rect x="146" y="81" width="2" height="2" fill="#afff50"/><rect x="148" y="81" width="2" height="2" fill="#40ffbf"/><rect x="150" y="81" width="2" height="2" fill="#008fff"/><rect x="152" y="81" width="2" height="2" fill="#0080ff"/><rect x="154" y="81" width="4" height="2" fill="#0070ff"/><rect x="158" y="81" width="2" height="2" fill="#0020ff"/><rect x="160" y="81" width="2" height="2" fill="#0000ff"/><rect x="126" y="83" width="2" height="2" fill="#0040ff"/><rect x="128" y="83" width="2" height="2" fill="#00cfff"/><rect x="130" y="83" width="2" height="2" fill="#20ffdf"/><rect x="132" y="83" width="2" height="2" fill="#50ffaf"/><rect x="134" y="83" width="2" height="2" fill="#60ff9f"/><rect x="136" y="83" width="2" height="2" fill="#bfff40"/><rect x="138" y="83" width="4" height="2" fill="#dfff20"/><rect x="142" y="83" width="4" height="2" fill="#efff10"/><rect x="146" y="83" width="2" height="2" fill="#8fff70"/><rect x="148" y="83" width="2" height="2" fill="#00efff"/><rect x="150" y="83" width="2" height="2" fill="#008fff"/><rect x="152" y="83" width="2" height="2" fill="#0070ff"/><rect x="154" y="83" width="2" height="2" fill="#0080ff"/><rect x="156" y="83" width="2" height="2" fill="#0050ff"/><rect x="158" y="83" width="2" height="2" fill="#0010ff"/><rect x="128" y="85" width="2" height="2" fill="#0080ff"/><rect x="130" y="85" width="2" height="2" fill="#00ffff"/><rect x="132" y="85" width="2" height="2" fill="#40ffbf"/><rect x="134" y="85" width="2" height="2" fill="#60ff9f"/><rect x="136" y="85" width="2" height="2" fill="#9fff60"/><rect x="138" y="85" width="2" height="2" fill="#cfff30"/><rect x="140" y="85" width="2" height="2" fill="#bfff40"/><rect x="142" y="85" width="2" height="2" fill="#dfff20"/><rect x="144" y="85" width="2" height="2" fill="#cfff30"/><rect x="146" y="85" width="2" height="2" fill="#60ff9f"/><rect x="148" y="85" width="2" height="2" fill="#009fff"/><rect x="150" y="85" width="2" height="2" fill="#0080ff"/><rect x="152" y="85" width="2" height="2" fill="#008fff"/><rect x="154" y="85" width="2" height="2" fill="#0060ff"/><rect x="156" y="85" width="2" height="2" fill="#0020ff"/><rect x="128" y="87" width="2" height="2" fill="#0020ff"/><rect x="130" y="87" width="2" height="2" fill="#008fff"/><rect x="132" y="87" width="2" height="2" fill="#00afff"/><rect x="134" y="87" width="2" height="2" fill="#00cfff"/><rect x="136" y="87" width="2" height="2" fill="#00dfff"/><rect x="138" y="87" width="4" height="2" fill="#00ffff"/><rect x="142" y="87" width="2" height="2" fill="#20ffdf"/><rect x="144" y="87" width="2" height="2" fill="#00dfff"/><rect x="146" y="87" width="2" height="2" fill="#008fff"/><rect x="148" y="87" width="2" height="2" fill="#0070ff"/><rect x="150" y="87" width="2" height="2" fill="#0080ff"/><rect x="152" y="87" width="2" height="2" fill="#0060ff"/><rect x="154" y="87" width="2" height="2" fill="#0020ff"/><rect x="156" y="87" width="2" height="2" fill="#0010ff"/></g></g></g><defs><clipPath id="hc2"><rect x="193" y="19" width="62.30000000000001" height="76.4"/></clipPath></defs><g clip-path="url(#hc2)"><g filter="url(#hb)"><rect x="190" y="16" width="68.30000000000001" height="82.4" fill="#00008f"/><g shape-rendering="crispEdges"><rect x="223" y="57" width="2" height="2" fill="#0000ff"/><rect x="225" y="57" width="4" height="2" fill="#0010ff"/><rect x="229" y="57" width="2" height="2" fill="#0000ef"/><rect x="221" y="59" width="2" height="2" fill="#0010ff"/><rect x="223" y="59" width="4" height="2" fill="#0020ff"/><rect x="227" y="59" width="2" height="2" fill="#0030ff"/><rect x="229" y="59" width="2" height="2" fill="#0020ff"/><rect x="231" y="59" width="2" height="2" fill="#0000ff"/><rect x="219" y="61" width="2" height="2" fill="#0030ff"/><rect x="221" y="61" width="4" height="2" fill="#0050ff"/><rect x="225" y="61" width="6" height="2" fill="#0060ff"/><rect x="231" y="61" width="2" height="2" fill="#0020ff"/><rect x="217" y="63" width="2" height="2" fill="#0040ff"/><rect x="219" y="63" width="2" height="2" fill="#009fff"/><rect x="221" y="63" width="6" height="2" fill="#00afff"/><rect x="227" y="63" width="2" height="2" fill="#00bfff"/><rect x="229" y="63" width="2" height="2" fill="#009fff"/><rect x="231" y="63" width="2" height="2" fill="#0030ff"/><rect x="217" y="65" width="2" height="2" fill="#008fff"/><rect x="219" y="65" width="2" height="2" fill="#10ffef"/><rect x="221" y="65" width="6" height="2" fill="#20ffdf"/><rect x="227" y="65" width="2" height="2" fill="#30ffcf"/><rect x="229" y="65" width="2" height="2" fill="#00cfff"/><rect x="231" y="65" width="2" height="2" fill="#0070ff"/><rect x="233" y="65" width="2" height="2" fill="#0030ff"/><rect x="215" y="67" width="2" height="2" fill="#0040ff"/><rect x="217" y="67" width="2" height="2" fill="#00efff"/><rect x="219" y="67" width="2" height="2" fill="#30ffcf"/><rect x="221" y="67" width="2" height="2" fill="#50ffaf"/><rect x="223" y="67" width="4" height="2" fill="#60ff9f"/><rect x="227" y="67" width="2" height="2" fill="#50ffaf"/><rect x="229" y="67" width="2" height="2" fill="#10ffef"/><rect x="231" y="67" width="2" height="2" fill="#008fff"/><rect x="233" y="67" width="2" height="2" fill="#0010ff"/><rect x="215" y="69" width="2" height="2" fill="#0040ff"/><rect x="217" y="69" width="2" height="2" fill="#00ffff"/><rect x="219" y="69" width="2" height="2" fill="#60ff9f"/><rect x="221" y="69" width="2" height="2" fill="#9fff60"/><rect x="223" y="69" width="2" height="2" fill="#afff50"/><rect x="225" y="69" width="2" height="2" fill="#bfff40"/><rect x="227" y="69" width="2" height="2" fill="#9fff60"/><rect x="229" y="69" width="2" height="2" fill="#30ffcf"/><rect x="231" y="69" width="2" height="2" fill="#009fff"/><rect x="233" y="69" width="2" height="2" fill="#0020ff"/><rect x="215" y="71" width="2" height="2" fill="#0060ff"/><rect x="217" y="71" width="2" height="2" fill="#10ffef"/><rect x="219" y="71" width="2" height="2" fill="#8fff70"/><rect x="221" y="71" width="2" height="2" fill="#cfff30"/><rect x="223" y="71" width="2" height="2" fill="#dfff20"/><rect x="225" y="71" width="2" height="2" fill="#efff10"/><rect x="227" y="71" width="2" height="2" fill="#bfff40"/><rect x="229" y="71" width="2" height="2" fill="#50ffaf"/><rect x="231" y="71" width="2" height="2" fill="#009fff"/><rect x="233" y="71" width="2" height="2" fill="#0020ff"/><rect x="235" y="71" width="2" height="2" fill="#0000ff"/><rect x="215" y="73" width="2" height="2" fill="#0060ff"/><rect x="217" y="73" width="2" height="2" fill="#30ffcf"/><rect x="219" y="73" width="2" height="2" fill="#9fff60"/><rect x="221" y="73" width="2" height="2" fill="#dfff20"/><rect x="223" y="73" width="4" height="2" fill="#ffef00"/><rect x="227" y="73" width="2" height="2" fill="#cfff30"/><rect x="229" y="73" width="2" height="2" fill="#50ffaf"/><rect x="231" y="73" width="2" height="2" fill="#00bfff"/><rect x="233" y="73" width="2" height="2" fill="#0040ff"/><rect x="235" y="73" width="2" height="2" fill="#0010ff"/><rect x="215" y="75" width="2" height="2" fill="#0060ff"/><rect x="217" y="75" width="2" height="2" fill="#30ffcf"/><rect x="219" y="75" width="2" height="2" fill="#cfff30"/><rect x="221" y="75" width="2" height="2" fill="#ffbf00"/><rect x="223" y="75" width="2" height="2" fill="#ffaf00"/><rect x="225" y="75" width="2" height="2" fill="#ffbf00"/><rect x="227" y="75" width="2" height="2" fill="#cfff30"/><rect x="229" y="75" width="2" height="2" fill="#50ffaf"/><rect x="231" y="75" width="2" height="2" fill="#00cfff"/><rect x="233" y="75" width="2" height="2" fill="#0050ff"/><rect x="235" y="75" width="2" height="2" fill="#0010ff"/><rect x="215" y="77" width="2" height="2" fill="#0060ff"/><rect x="217" y="77" width="2" height="2" fill="#40ffbf"/><rect x="219" y="77" width="2" height="2" fill="#ffef00"/><rect x="221" y="77" width="4" height="2" fill="#ff8000"/><rect x="225" y="77" width="2" height="2" fill="#ff8f00"/><rect x="227" y="77" width="2" height="2" fill="#efff10"/><rect x="229" y="77" width="2" height="2" fill="#60ff9f"/><rect x="231" y="77" width="2" height="2" fill="#00afff"/><rect x="233" y="77" width="2" height="2" fill="#0060ff"/><rect x="235" y="77" width="2" height="2" fill="#0020ff"/><rect x="209" y="79" width="2" height="2" fill="#0000ef"/><rect x="211" y="79" width="2" height="2" fill="#0000ff"/><rect x="213" y="79" width="2" height="2" fill="#0000ef"/><rect x="215" y="79" width="2" height="2" fill="#0070ff"/><rect x="217" y="79" width="2" height="2" fill="#40ffbf"/><rect x="219" y="79" width="2" height="2" fill="#ffcf00"/><rect x="221" y="79" width="4" height="2" fill="#ff2000"/><rect x="225" y="79" width="2" height="2" fill="#ff6000"/><rect x="227" y="79" width="2" height="2" fill="#efff10"/><rect x="229" y="79" width="2" height="2" fill="#70ff8f"/><rect x="231" y="79" width="2" height="2" fill="#00bfff"/><rect x="233" y="79" width="2" height="2" fill="#0060ff"/><rect x="235" y="79" width="2" height="2" fill="#0030ff"/><rect x="237" y="79" width="2" height="2" fill="#0000ff"/><rect x="209" y="81" width="2" height="2" fill="#0010ff"/><rect x="211" y="81" width="4" height="2" fill="#0000ff"/><rect x="215" y="81" width="2" height="2" fill="#0050ff"/><rect x="217" y="81" width="2" height="2" fill="#50ffaf"/><rect x="219" y="81" width="2" height="2" fill="#ffbf00"/><rect x="221" y="81" width="2" height="2" fill="#df0000"/><rect x="223" y="81" width="2" height="2" fill="#bf0000"/><rect x="225" y="81" width="2" height="2" fill="#ff4000"/><rect x="227" y="81" width="2" height="2" fill="#ffff00"/><rect x="229" y="81" width="2" height="2" fill="#60ff9f"/><rect x="231" y="81" width="2" height="2" fill="#00cfff"/><rect x="233" y="81" width="2" height="2" fill="#0070ff"/><rect x="235" y="81" width="2" height="2" fill="#0020ff"/><rect x="237" y="81" width="2" height="2" fill="#0010ff"/><rect x="215" y="83" width="2" height="2" fill="#0040ff"/><rect x="217" y="83" width="2" height="2" fill="#30ffcf"/><rect x="219" y="83" width="2" height="2" fill="#ff9f00"/><rect x="221" y="83" width="4" height="2" fill="#cf0000"/><rect x="225" y="83" width="2" height="2" fill="#ff2000"/><rect x="227" y="83" width="2" height="2" fill="#ffcf00"/><rect x="229" y="83" width="2" height="2" fill="#40ffbf"/><rect x="231" y="83" width="2" height="2" fill="#00afff"/><rect x="233" y="83" width="2" height="2" fill="#0070ff"/><rect x="235" y="83" width="2" height="2" fill="#0050ff"/><rect x="237" y="83" width="2" height="2" fill="#0010ff"/><rect x="215" y="85" width="2" height="2" fill="#0010ff"/><rect x="217" y="85" width="2" height="2" fill="#00ffff"/><rect x="219" y="85" width="2" height="2" fill="#ffbf00"/><rect x="221" y="85" width="2" height="2" fill="#ff3000"/><rect x="223" y="85" width="2" height="2" fill="#ff2000"/><rect x="225" y="85" width="2" height="2" fill="#ff5000"/><rect x="227" y="85" width="2" height="2" fill="#ffcf00"/><rect x="229" y="85" width="2" height="2" fill="#50ffaf"/><rect x="231" y="85" width="2" height="2" fill="#00afff"/><rect x="233" y="85" width="2" height="2" fill="#0070ff"/><rect x="235" y="85" width="2" height="2" fill="#0080ff"/><rect x="237" y="85" width="2" height="2" fill="#0030ff"/><rect x="239" y="85" width="2" height="2" fill="#0000ff"/><rect x="219" y="87" width="2" height="2" fill="#30ffcf"/><rect x="221" y="87" width="2" height="2" fill="#9fff60"/><rect x="223" y="87" width="2" height="2" fill="#afff50"/><rect x="225" y="87" width="2" height="2" fill="#8fff70"/><rect x="227" y="87" width="2" height="2" fill="#80ff80"/><rect x="229" y="87" width="2" height="2" fill="#00efff"/><rect x="231" y="87" width="2" height="2" fill="#009fff"/><rect x="233" y="87" width="2" height="2" fill="#008fff"/><rect x="235" y="87" width="2" height="2" fill="#0080ff"/><rect x="237" y="87" width="2" height="2" fill="#0070ff"/><rect x="239" y="87" width="2" height="2" fill="#0040ff"/><rect x="241" y="87" width="2" height="2" fill="#0000ff"/><rect x="221" y="89" width="2" height="2" fill="#0070ff"/><rect x="223" y="89" width="2" height="2" fill="#0080ff"/><rect x="225" y="89" width="2" height="2" fill="#0070ff"/><rect x="227" y="89" width="4" height="2" fill="#0060ff"/><rect x="231" y="89" width="8" height="2" fill="#0050ff"/><rect x="239" y="89" width="2" height="2" fill="#0000ff"/></g></g></g><defs><linearGradient id="jg" x1="0" y1="0" x2="0" y2="1"><stop offset="0.0000" stop-color="#800000"/><stop offset="0.0159" stop-color="#8f0000"/><stop offset="0.0317" stop-color="#9f0000"/><stop offset="0.0476" stop-color="#af0000"/><stop offset="0.0635" stop-color="#bf0000"/><stop offset="0.0794" stop-color="#cf0000"/><stop offset="0.0952" stop-color="#df0000"/><stop offset="0.1111" stop-color="#ef0000"/><stop offset="0.1270" stop-color="#ff0000"/><stop offset="0.1429" stop-color="#ff1000"/><stop offset="0.1587" stop-color="#ff2000"/><stop offset="0.1746" stop-color="#ff3000"/><stop offset="0.1905" stop-color="#ff4000"/><stop offset="0.2063" stop-color="#ff5000"/><stop offset="0.2222" stop-color="#ff6000"/><stop offset="0.2381" stop-color="#ff7000"/><stop offset="0.2540" stop-color="#ff8000"/><stop offset="0.2698" stop-color="#ff8f00"/><stop offset="0.2857" stop-color="#ff9f00"/><stop offset="0.3016" stop-color="#ffaf00"/><stop offset="0.3175" stop-color="#ffbf00"/><stop offset="0.3333" stop-color="#ffcf00"/><stop offset="0.3492" stop-color="#ffdf00"/><stop offset="0.3651" stop-color="#ffef00"/><stop offset="0.3810" stop-color="#ffff00"/><stop offset="0.3968" stop-color="#efff10"/><stop offset="0.4127" stop-color="#dfff20"/><stop offset="0.4286" stop-color="#cfff30"/><stop offset="0.4444" stop-color="#bfff40"/><stop offset="0.4603" stop-color="#afff50"/><stop offset="0.4762" stop-color="#9fff60"/><stop offset="0.4921" stop-color="#8fff70"/><stop offset="0.5079" stop-color="#80ff80"/><stop offset="0.5238" stop-color="#70ff8f"/><stop offset="0.5397" stop-color="#60ff9f"/><stop offset="0.5556" stop-color="#50ffaf"/><stop offset="0.5714" stop-color="#40ffbf"/><stop offset="0.5873" stop-color="#30ffcf"/><stop offset="0.6032" stop-color="#20ffdf"/><stop offset="0.6190" stop-color="#10ffef"/><stop offset="0.6349" stop-color="#00ffff"/><stop offset="0.6508" stop-color="#00efff"/><stop offset="0.6667" stop-color="#00dfff"/><stop offset="0.6825" stop-color="#00cfff"/><stop offset="0.6984" stop-color="#00bfff"/><stop offset="0.7143" stop-color="#00afff"/><stop offset="0.7302" stop-color="#009fff"/><stop offset="0.7460" stop-color="#008fff"/><stop offset="0.7619" stop-color="#0080ff"/><stop offset="0.7778" stop-color="#0070ff"/><stop offset="0.7937" stop-color="#0060ff"/><stop offset="0.8095" stop-color="#0050ff"/><stop offset="0.8254" stop-color="#0040ff"/><stop offset="0.8413" stop-color="#0030ff"/><stop offset="0.8571" stop-color="#0020ff"/><stop offset="0.8730" stop-color="#0010ff"/><stop offset="0.8889" stop-color="#0000ff"/><stop offset="0.9048" stop-color="#0000ef"/><stop offset="0.9206" stop-color="#0000df"/><stop offset="0.9365" stop-color="#0000cf"/><stop offset="0.9524" stop-color="#0000bf"/><stop offset="0.9683" stop-color="#0000af"/><stop offset="0.9841" stop-color="#00009f"/><stop offset="1.0000" stop-color="#00008f"/></linearGradient></defs><rect x="263" y="20.7" width="6" height="73.8" fill="url(#jg)"/><g><rect x="34.5" y="133.3" width="96.5" height="74.0" fill="#00009f"/><rect x="114.92" y="133.30" width="16.08" height="12.33" fill="#800000"/><rect x="98.83" y="145.63" width="16.08" height="12.33" fill="#8f0000"/><rect x="50.58" y="157.97" width="16.08" height="12.33" fill="#0000cf"/><rect x="82.75" y="157.97" width="16.08" height="12.33" fill="#ff2000"/><rect x="98.83" y="157.97" width="16.08" height="12.33" fill="#0020ff"/><rect x="66.67" y="170.30" width="16.08" height="12.33" fill="#8f0000"/><rect x="50.58" y="182.63" width="16.08" height="12.33" fill="#ff1000"/><rect x="98.83" y="182.63" width="16.08" height="12.33" fill="#0020ff"/><rect x="34.50" y="194.97" width="16.08" height="12.33" fill="#bf0000"/><rect x="82.75" y="194.97" width="16.08" height="12.33" fill="#0000cf"/></g><rect x="139" y="133" width="5" height="73.7" fill="url(#jg)"/><path d="M200.5 133 V207.5 H297" fill="none" stroke="#999999" stroke-width="0.8"/><line x1="200.5" y1="197.50" x2="201.8" y2="197.50" stroke="#999999" stroke-width="0.6"/><line x1="200.5" y1="187.60" x2="201.8" y2="187.60" stroke="#999999" stroke-width="0.6"/><line x1="200.5" y1="177.70" x2="201.8" y2="177.70" stroke="#999999" stroke-width="0.6"/><line x1="200.5" y1="167.80" x2="201.8" y2="167.80" stroke="#999999" stroke-width="0.6"/><line x1="200.5" y1="157.90" x2="201.8" y2="157.90" stroke="#999999" stroke-width="0.6"/><line x1="200.5" y1="148.00" x2="201.8" y2="148.00" stroke="#999999" stroke-width="0.6"/><line x1="200.5" y1="138.10" x2="201.8" y2="138.10" stroke="#999999" stroke-width="0.6"/><line x1="202.19" y1="207.5" x2="202.19" y2="206.4" stroke="#999999" stroke-width="0.5"/><line x1="206.33" y1="207.5" x2="206.33" y2="206.4" stroke="#999999" stroke-width="0.5"/><line x1="209.54" y1="207.5" x2="209.54" y2="206.4" stroke="#999999" stroke-width="0.5"/><line x1="212.16" y1="207.5" x2="212.16" y2="206.4" stroke="#999999" stroke-width="0.5"/><line x1="214.37" y1="207.5" x2="214.37" y2="206.4" stroke="#999999" stroke-width="0.5"/><line x1="216.29" y1="207.5" x2="216.29" y2="206.4" stroke="#999999" stroke-width="0.5"/><line x1="217.99" y1="207.5" x2="217.99" y2="206.4" stroke="#999999" stroke-width="0.5"/><line x1="219.50" y1="207.5" x2="219.50" y2="205.7" stroke="#999999" stroke-width="0.5"/><line x1="229.46" y1="207.5" x2="229.46" y2="206.4" stroke="#999999" stroke-width="0.5"/><line x1="235.29" y1="207.5" x2="235.29" y2="206.4" stroke="#999999" stroke-width="0.5"/><line x1="239.43" y1="207.5" x2="239.43" y2="206.4" stroke="#999999" stroke-width="0.5"/><line x1="242.64" y1="207.5" x2="242.64" y2="206.4" stroke="#999999" stroke-width="0.5"/><line x1="245.26" y1="207.5" x2="245.26" y2="206.4" stroke="#999999" stroke-width="0.5"/><line x1="247.47" y1="207.5" x2="247.47" y2="206.4" stroke="#999999" stroke-width="0.5"/><line x1="249.39" y1="207.5" x2="249.39" y2="206.4" stroke="#999999" stroke-width="0.5"/><line x1="251.09" y1="207.5" x2="251.09" y2="206.4" stroke="#999999" stroke-width="0.5"/><line x1="252.60" y1="207.5" x2="252.60" y2="205.7" stroke="#999999" stroke-width="0.5"/><line x1="262.56" y1="207.5" x2="262.56" y2="206.4" stroke="#999999" stroke-width="0.5"/><line x1="268.39" y1="207.5" x2="268.39" y2="206.4" stroke="#999999" stroke-width="0.5"/><line x1="272.53" y1="207.5" x2="272.53" y2="206.4" stroke="#999999" stroke-width="0.5"/><line x1="275.74" y1="207.5" x2="275.74" y2="206.4" stroke="#999999" stroke-width="0.5"/><line x1="278.36" y1="207.5" x2="278.36" y2="206.4" stroke="#999999" stroke-width="0.5"/><line x1="280.57" y1="207.5" x2="280.57" y2="206.4" stroke="#999999" stroke-width="0.5"/><line x1="282.49" y1="207.5" x2="282.49" y2="206.4" stroke="#999999" stroke-width="0.5"/><line x1="284.19" y1="207.5" x2="284.19" y2="206.4" stroke="#999999" stroke-width="0.5"/><line x1="285.70" y1="207.5" x2="285.70" y2="205.7" stroke="#999999" stroke-width="0.5"/><line x1="295.66" y1="207.5" x2="295.66" y2="206.4" stroke="#999999" stroke-width="0.5"/><polyline points="207.4,169.8 217.8,166.8 228.2,163.2 238.6,159.5 249,154.8 259.4,149.5 269.8,144.6 280.2,140 290.6,138.4" fill="none" stroke="#e8280a" stroke-width="1.3" stroke-linejoin="round"/><polyline points="207.4,189.2 217.8,188.2 228.2,188.6 238.6,185.6 249,181.7 259.4,175.3 269.8,164.4 280.2,152 290.6,147.4" fill="none" stroke="#000000" stroke-width="1.3" stroke-linejoin="round"/><polyline points="207.4,198.7 217.8,197.5 228.2,198 238.6,197.3 249,195 259.4,189.8 269.8,183.8 280.2,178.2 290.6,158" fill="none" stroke="#1028f5" stroke-width="1.3" stroke-linejoin="round"/><line x1="202.2" y1="122.7" x2="216.7" y2="122.7" stroke="#e8280a" stroke-width="2"/><line x1="202.2" y1="131.8" x2="216.7" y2="131.8" stroke="#000000" stroke-width="2"/><line x1="202.2" y1="140.2" x2="216.7" y2="140.2" stroke="#1028f5" stroke-width="2"/><text x="3.72" y="9.88" font-size="11.2" fill="#151515" textLength="7.16" lengthAdjust="spacingAndGlyphs" stroke="#151515" stroke-width="0.0">A</text><text x="39.75" y="14.00" font-size="8.6" fill="#151515" textLength="47.05" lengthAdjust="spacingAndGlyphs" stroke="#151515" stroke-width="0.17">Primate Voc.</text><text x="128.05" y="14.00" font-size="8.6" fill="#151515" textLength="26.63" lengthAdjust="spacingAndGlyphs" stroke="#151515" stroke-width="0.17">Speech</text><text x="215.18" y="14.00" font-size="8.6" fill="#151515" textLength="21.61" lengthAdjust="spacingAndGlyphs" stroke="#151515" stroke-width="0.17">Water</text><text x="20.35" y="22.95" font-size="7.9" fill="#151515" textLength="7.84" lengthAdjust="spacingAndGlyphs" stroke="#151515" stroke-width="0.12">20</text><text x="20.60" y="47.25" font-size="7.9" fill="#151515" textLength="7.55" lengthAdjust="spacingAndGlyphs" stroke="#151515" stroke-width="0.12">15</text><text x="20.60" y="72.00" font-size="7.9" fill="#151515" textLength="7.55" lengthAdjust="spacingAndGlyphs" stroke="#151515" stroke-width="0.12">10</text><text x="23.98" y="96.85" font-size="7.9" fill="#151515" textLength="4.22" lengthAdjust="spacingAndGlyphs" stroke="#151515" stroke-width="0.12">5</text><text x="24.45" y="103.00" font-size="7.2" fill="#151515" stroke="#151515" stroke-width="0.12">−25</text><text x="59.75" y="103.00" font-size="7.2" fill="#151515" stroke="#151515" stroke-width="0.12">0</text><text x="89.12" y="103.00" font-size="7.2" fill="#151515" stroke="#151515" stroke-width="0.12">25</text><text x="105.45" y="103.00" font-size="7.2" fill="#151515" stroke="#151515" stroke-width="0.12">−25</text><text x="140.50" y="103.00" font-size="7.2" fill="#151515" stroke="#151515" stroke-width="0.12">0</text><text x="169.62" y="103.00" font-size="7.2" fill="#151515" stroke="#151515" stroke-width="0.12">25</text><text x="186.45" y="103.00" font-size="7.2" fill="#151515" stroke="#151515" stroke-width="0.12">−25</text><text x="221.35" y="103.00" font-size="7.2" fill="#151515" stroke="#151515" stroke-width="0.12">0</text><text x="250.33" y="103.00" font-size="7.2" fill="#151515" stroke="#151515" stroke-width="0.12">25</text><text x="97.25" y="113.30" font-size="8.6" fill="#151515" textLength="94.27" lengthAdjust="spacingAndGlyphs" stroke="#151515" stroke-width="0.17">Relative Sound Level (dB)</text><text x="16.25" y="94.78" font-size="8.6" fill="#151515" textLength="69.66" lengthAdjust="spacingAndGlyphs" transform="rotate(-90 16.25 94.78)" stroke="#151515" stroke-width="0.17">Contrast (SD in dB)</text><text x="269.68" y="22.93" font-size="8.2" fill="#151515" textLength="9.87" lengthAdjust="spacingAndGlyphs" stroke="#151515" stroke-width="0.2">0.1</text><text x="269.93" y="47.88" font-size="8.2" fill="#151515" textLength="13.57" lengthAdjust="spacingAndGlyphs" stroke="#151515" stroke-width="0.2">0.01</text><text x="269.82" y="72.38" font-size="8.2" fill="#151515" textLength="17.72" lengthAdjust="spacingAndGlyphs" stroke="#151515" stroke-width="0.2">0.001</text><text x="269.70" y="96.57" font-size="8.2" fill="#151515" textLength="21.47" lengthAdjust="spacingAndGlyphs" stroke="#151515" stroke-width="0.2">0.0001</text><text x="298.00" y="75.18" font-size="8.8" fill="#151515" textLength="41.07" lengthAdjust="spacingAndGlyphs" transform="rotate(-90 298.00 75.18)" stroke="#151515" stroke-width="0.17">Probability</text><text x="-0.02" y="131.75" font-size="11.5" fill="#151515" textLength="6.91" lengthAdjust="spacingAndGlyphs" stroke="#151515" stroke-width="0.0">B</text><text x="51.50" y="128.50" font-size="8.3" fill="#151515" textLength="64.26" lengthAdjust="spacingAndGlyphs" stroke="#151515" stroke-width="0.17">Confusion Matrix</text><text x="2.60" y="140.90" font-size="7.5" fill="#151515" textLength="29.96" lengthAdjust="spacingAndGlyphs" stroke="#151515" stroke-width="0.12">machines</text><text x="15.22" y="151.90" font-size="7.5" fill="#151515" textLength="16.80" lengthAdjust="spacingAndGlyphs" stroke="#151515" stroke-width="0.12">water</text><text x="5.50" y="164.40" font-size="7.5" fill="#151515" textLength="26.77" lengthAdjust="spacingAndGlyphs" stroke="#151515" stroke-width="0.12">primates</text><text x="9.72" y="176.70" font-size="7.5" fill="#151515" textLength="22.37" lengthAdjust="spacingAndGlyphs" stroke="#151515" stroke-width="0.12">speech</text><text x="8.35" y="190.10" font-size="7.5" fill="#151515" textLength="22.87" lengthAdjust="spacingAndGlyphs" stroke="#151515" stroke-width="0.12">parrots</text><text x="13.90" y="203.50" font-size="7.5" fill="#151515" textLength="15.91" lengthAdjust="spacingAndGlyphs" stroke="#151515" stroke-width="0.12">frogs</text><text x="42.90" y="227.50" font-size="7.5" fill="#151515" textLength="16.25" lengthAdjust="spacingAndGlyphs" transform="rotate(-90 42.90 227.50)" stroke="#151515" stroke-width="0.12">frogs</text><text x="58.02" y="232.62" font-size="7.5" fill="#151515" textLength="21.37" lengthAdjust="spacingAndGlyphs" transform="rotate(-90 58.02 232.62)" stroke="#151515" stroke-width="0.12">parrots</text><text x="73.60" y="233.12" font-size="7.5" fill="#151515" textLength="22.52" lengthAdjust="spacingAndGlyphs" transform="rotate(-90 73.60 233.12)" stroke="#151515" stroke-width="0.12">speech</text><text x="91.15" y="235.80" font-size="7.5" fill="#151515" textLength="25.82" lengthAdjust="spacingAndGlyphs" transform="rotate(-90 91.15 235.80)" stroke="#151515" stroke-width="0.12">primates</text><text x="107.17" y="228.88" font-size="7.5" fill="#151515" textLength="16.95" lengthAdjust="spacingAndGlyphs" transform="rotate(-90 107.17 228.88)" stroke="#151515" stroke-width="0.12">water</text><text x="124.85" y="242.03" font-size="7.5" fill="#151515" textLength="32.67" lengthAdjust="spacingAndGlyphs" transform="rotate(-90 124.85 242.03)" stroke="#151515" stroke-width="0.12">machines</text><text x="147.17" y="135.70" font-size="7.2" fill="#151515" stroke="#151515" stroke-width="0.12">1</text><text x="147.10" y="207.95" font-size="7.2" fill="#151515" stroke="#151515" stroke-width="0.12">0</text><text x="153.05" y="189.93" font-size="8.8" fill="#151515" textLength="42.92" lengthAdjust="spacingAndGlyphs" transform="rotate(-90 153.05 189.93)" stroke="#151515" stroke-width="0.17">Probability</text><text x="167.20" y="131.58" font-size="11.4" fill="#151515" textLength="7.47" lengthAdjust="spacingAndGlyphs" stroke="#151515" stroke-width="0.0">C</text><text x="221.80" y="125.70" font-size="7.2" fill="#151515" textLength="67.50" lengthAdjust="spacingAndGlyphs" stroke="#151515" stroke-width="0.17">Sound Level + Contrast</text><text x="221.70" y="135.30" font-size="7.2" fill="#151515" textLength="24.66" lengthAdjust="spacingAndGlyphs" stroke="#151515" stroke-width="0.17">Contrast</text><text x="221.82" y="143.00" font-size="7.2" fill="#151515" textLength="34.92" lengthAdjust="spacingAndGlyphs" stroke="#151515" stroke-width="0.17">Sound Level</text><text x="186.67" y="141.15" font-size="7.2" fill="#151515" stroke="#151515" stroke-width="0.0">100</text><text x="189.92" y="160.15" font-size="7.2" fill="#151515" stroke="#151515" stroke-width="0.0">80</text><text x="189.92" y="180.20" font-size="7.2" fill="#151515" stroke="#151515" stroke-width="0.0">60</text><text x="189.92" y="199.85" font-size="7.2" fill="#151515" stroke="#151515" stroke-width="0.0">40</text><text x="212.97" y="214.05" font-size="7.2" fill="#151515" stroke="#151515" stroke-width="0.0">0.01</text><text x="247.38" y="214.05" font-size="7.2" fill="#151515" stroke="#151515" stroke-width="0.0">0.1</text><text x="284.12" y="213.75" font-size="7.2" fill="#151515" stroke="#151515" stroke-width="0.0">1</text><text x="205.00" y="226.20" font-size="9.2" fill="#151515" textLength="85.56" lengthAdjust="spacingAndGlyphs" stroke="#151515" stroke-width="0.2">Sound Duration (sec)</text><text x="174.60" y="201.27" font-size="9.2" fill="#151515" textLength="63.26" lengthAdjust="spacingAndGlyphs" transform="rotate(-90 174.60 201.27)" stroke="#151515" stroke-width="0.05">Percent Correct</text><text x="185.80" y="201.60" font-size="9.2" fill="#151515" textLength="53.32" lengthAdjust="spacingAndGlyphs" transform="rotate(-90 185.80 201.60)" stroke="#151515" stroke-width="0.05">Classification</text></svg></body></html>
